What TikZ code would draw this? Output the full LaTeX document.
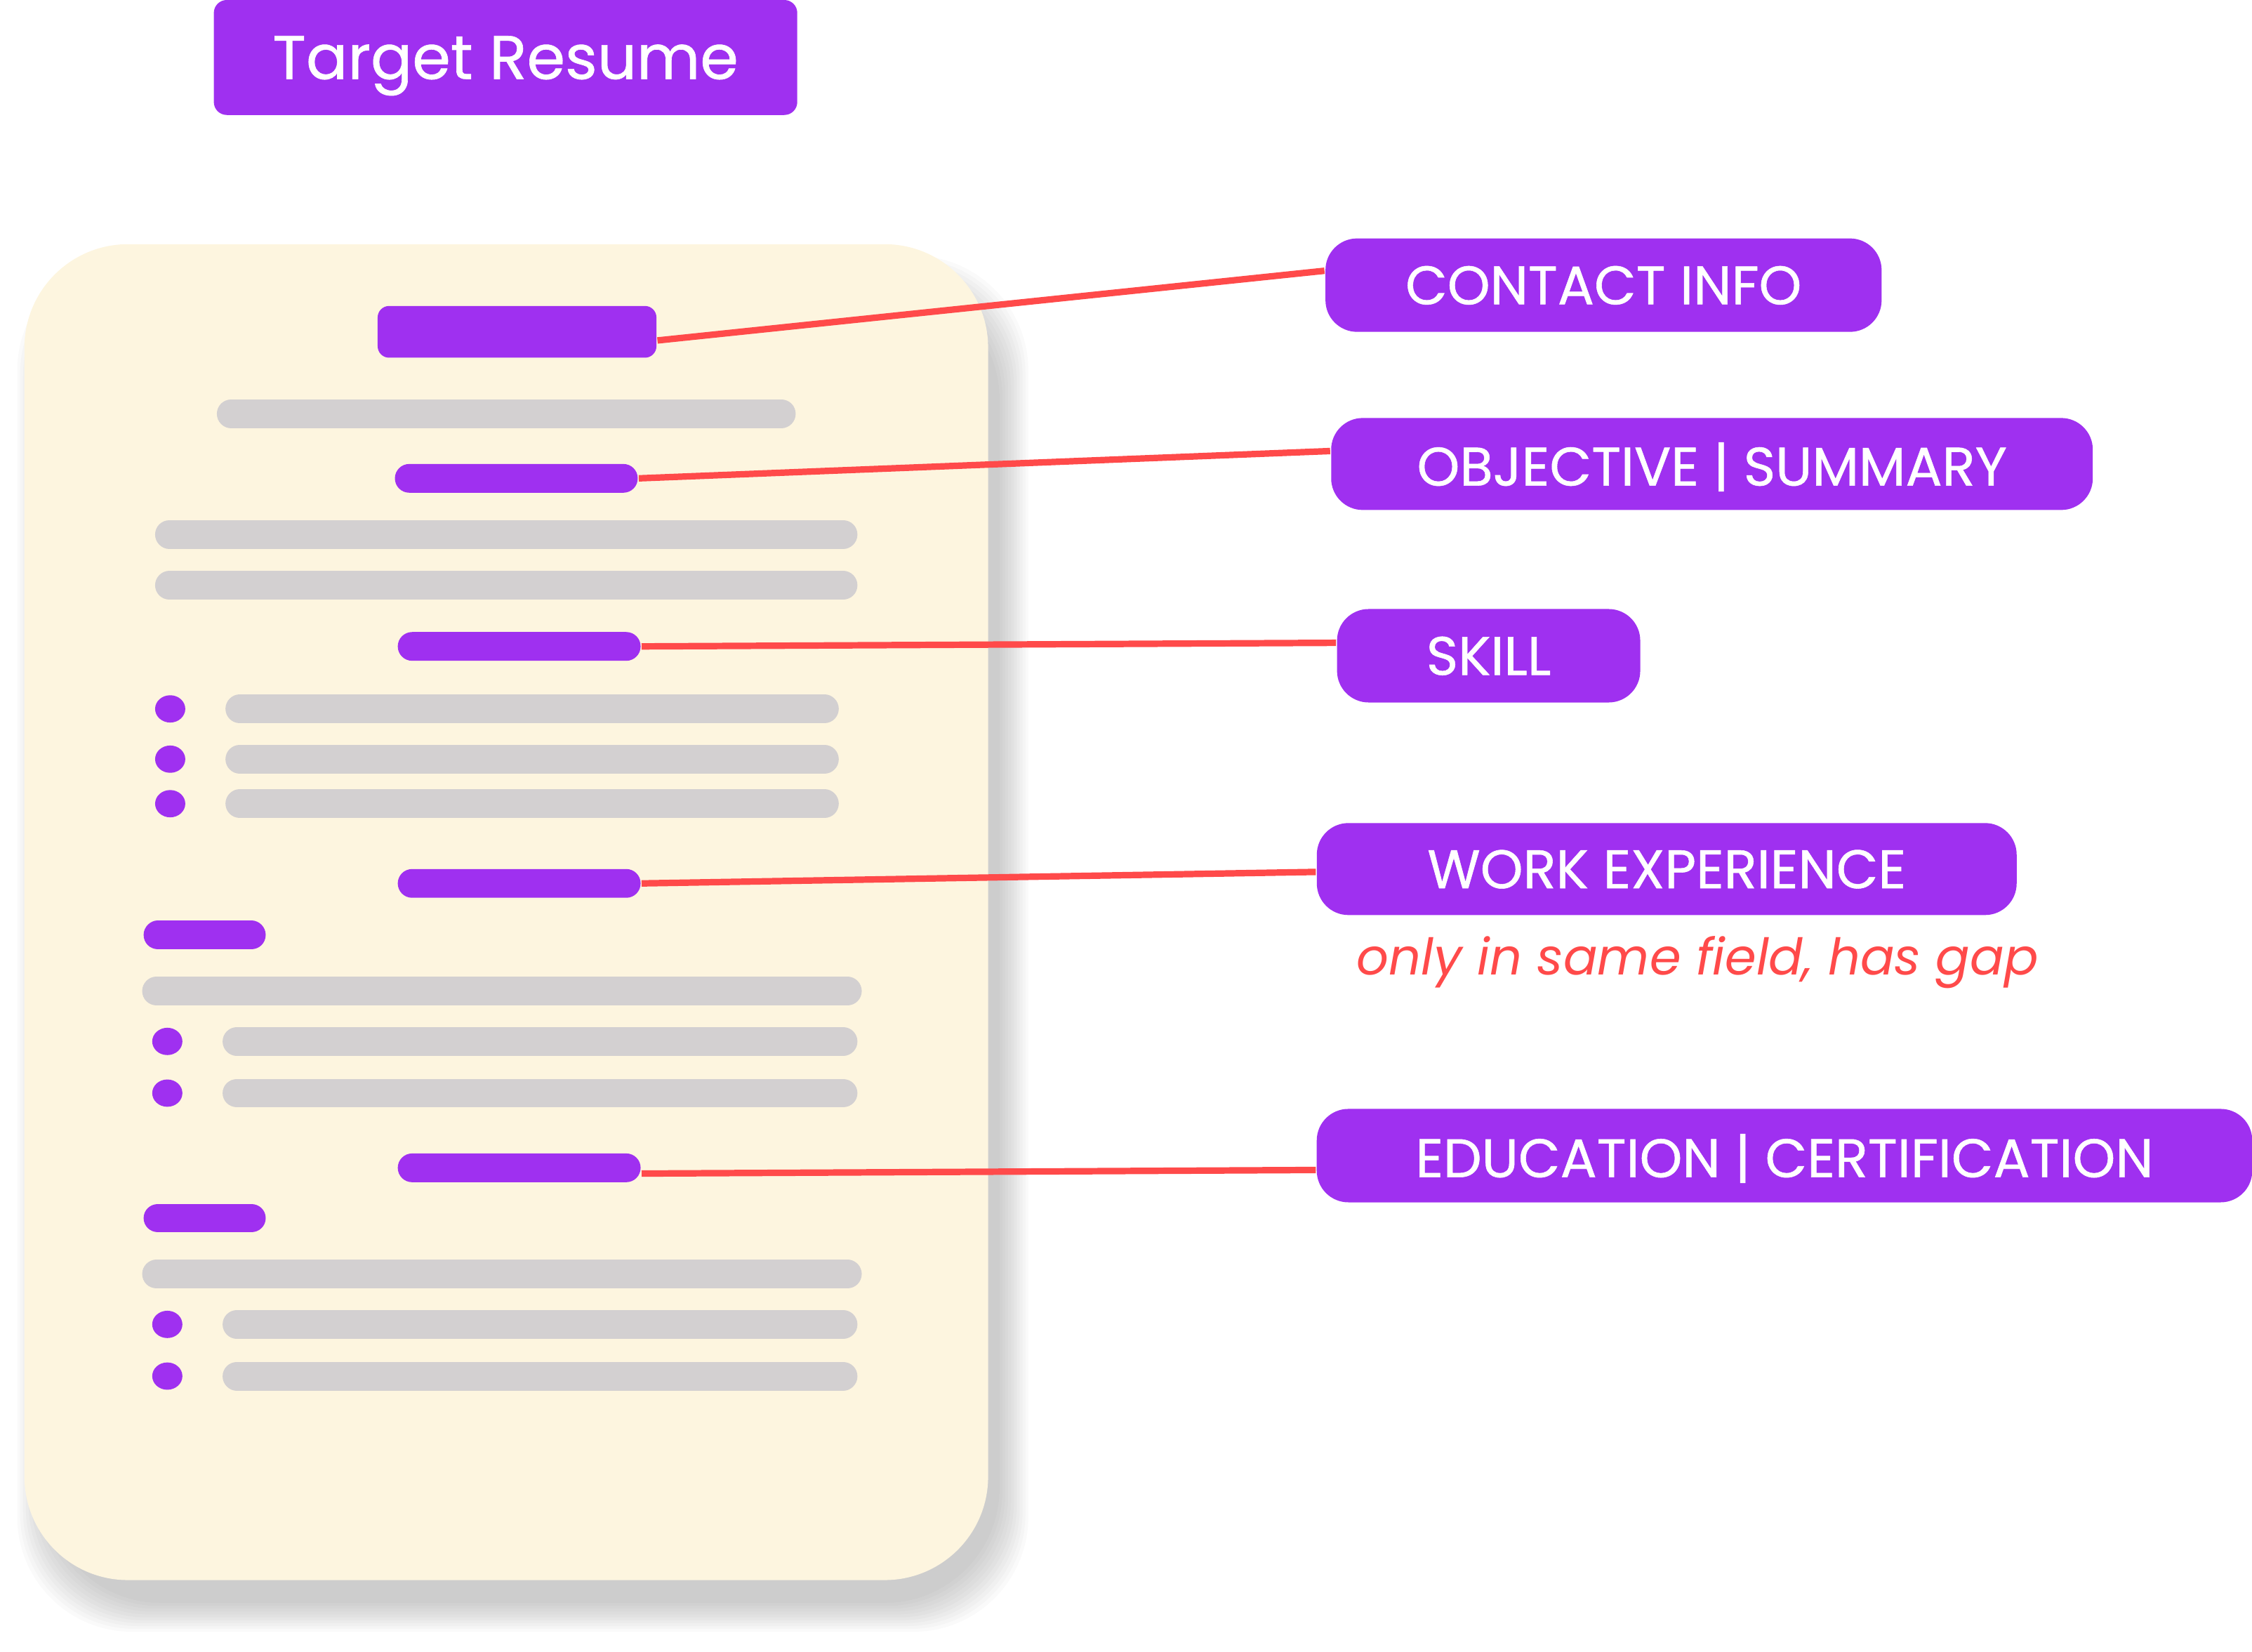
\documentclass[tikz,border=0pt]{standalone}
\usepackage{fontspec}
\setmainfont{Poppins}
\usetikzlibrary{positioning}
\definecolor{violet}{HTML}{9F30F0}
\definecolor{linkred}{HTML}{FF4A4A}
\definecolor{paper}{HTML}{FDF5DF}
\definecolor{greybar}{HTML}{D3D0D1}
\newfontfamily\tagfont[FakeBold=0.7]{Poppins}
\begin{document}
\begin{tikzpicture}[x=0.01cm,y=-0.01cm,
		tag/.style={fill=violet,text=white,rounded corners=0.22cm,inner sep=0pt,text depth=0pt,
			font=\tagfont\fontsize{10.75pt}{13pt}\selectfont},
		headbar/.style={fill=violet,rounded corners=0.1cm,inner sep=0pt,
			minimum width=1.69cm,minimum height=0.2cm},
		link/.style={draw=linkred,line width=0.045cm},
		greyline/.style={draw=greybar,line width=0.2cm,line cap=round},
		subline/.style={draw=violet,line width=0.2cm,line cap=round}]
		\useasboundingbox(0,0)rectangle(1568,1150);
		\node[tag,rounded corners=0.09cm,minimum width=4.06cm,minimum height=0.8cm,
			font=\tagfont\fontsize{12.2pt}{15pt}\selectfont](title)at(352,40){Target Resume};

		\foreach \k in {0,...,10}{
			\fill[black,opacity=0.018,rounded corners=0.8cm]
				({32-\k*2},{198-\k*2})rectangle({696+\k*2},{1116+\k*2});
		}
		\fill[paper,rounded corners=0.72cm](17,170)rectangle(688,1100);

		\node[headbar,rounded corners=0.08cm,minimum width=1.94cm,minimum height=0.36cm]
			(contactbar)at(360,231){};
		\draw[greyline](161,288)--(544,288);
		\node[headbar](objectivebar)at(359.5,333){};
		\draw[greyline](118,372)--(587,372);
		\draw[greyline](118,407.5)--(587,407.5);
		\node[headbar](skillbar)at(361.5,450){};
		\foreach \y in {493.5,528.5,559.5}{
			\fill[violet](118.5,\y)ellipse(10.5 and 9.5);
			\draw[greyline](167,\y)--(574,\y);
		}
		\node[headbar](workbar)at(361.5,615){};
		\node[headbar](edubar)at(361.5,813){};
		\foreach \t in {0,197}{
			\draw[subline](110,{651+\t})--(175,{651+\t});
			\draw[greyline](109,{690+\t})--(590,{690+\t});
			\foreach \y in {725,761}{
				\fill[violet](116.5,{\y+\t})ellipse(10.5 and 9.5);
				\draw[greyline](165,{\y+\t})--(587,{\y+\t});
			}
		}

		\node[tag,minimum width=3.87cm,minimum height=0.65cm](contact)at(1116.5,198.5){CONTACT INFO};
		\node[tag,minimum width=5.3cm,minimum height=0.64cm](objective)at(1192,323){OBJECTIVE | SUMMARY};
		\node[tag,minimum width=2.11cm,minimum height=0.65cm](skill)at(1036.5,456.5){SKILL};
		\node[tag,minimum width=4.87cm,minimum height=0.64cm](work)at(1160.5,605){WORK EXPERIENCE};
		\node[text=linkred,font=\fontsize{10pt}{12pt}\selectfont\itshape,inner sep=0pt]
			(note)at(1182,670){only in same field, has gap};
		\node[tag,minimum width=6.51cm,minimum height=0.65cm](education)at(1242.5,804.5){EDUCATION | CERTIFICATION};

		\draw[link]([yshift=-0.06cm]contactbar.east)--([yshift=0.1cm]contact.west);
		\draw[link](objectivebar.east)--([yshift=0.09cm]objective.west);
		\draw[link](skillbar.east)--([yshift=0.09cm]skill.west);
		\draw[link](workbar.east)--([yshift=-0.02cm]work.west);
		\draw[link]([yshift=-0.04cm]edubar.east)--([yshift=-0.1cm]education.west);

	\end{tikzpicture}
\end{document}
